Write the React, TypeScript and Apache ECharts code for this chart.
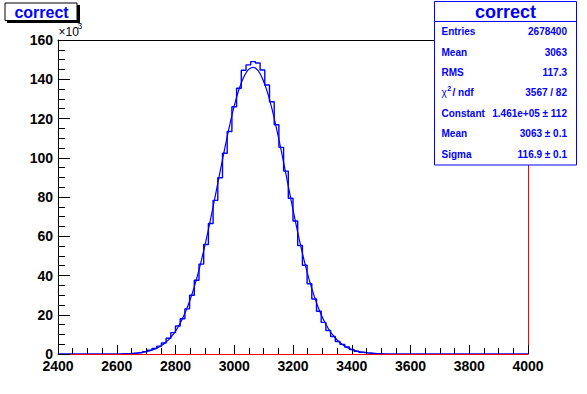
import React, { useEffect, useRef } from "react";
import * as echarts from "echarts";

// Histogram: 100 bins of width 16 from 2400 to 4000 (values in thousands)
const xMin = 2400;
const xMax = 4000;
const binWidth = 16;
const firstBin = 13;
const histValues = [
  0.05, 0.1, 0.25, 0.45, 0.75, 1.2, 1.9, 2.8, 4.0, 5.6, 8.0, 10.9,
  14.3, 18.0, 23.0, 29.9, 37.6, 45.8, 55.8, 66.5, 78.3, 89.8, 102.3, 113.4,
  126.0, 135.4, 144.6, 147.3, 149.0, 148.3, 144.7, 137.1, 128.5, 116.8, 105.3, 93.2,
  79.4, 67.8, 55.3, 45.2, 35.8, 28.0, 21.8, 16.1, 12.0, 8.9, 6.4, 4.9,
  3.6, 2.3, 1.4, 0.9, 0.55, 0.35, 0.2, 0.1, 0.05,
];
// Fit curve sampled at bin centres (same bins as histValues)
const fitValues = [
  0.1, 0.16, 0.27, 0.43, 0.68, 1.06, 1.61, 2.41, 3.53, 5.08, 7.17, 9.95,
  13.53, 18.07, 23.67, 30.46, 38.45, 47.63, 57.93, 69.15, 80.98, 93.07, 105.0, 116.3,
  126.4, 134.8, 141.0, 144.9, 146.1, 144.6, 140.4, 133.8, 125.2, 114.9, 103.6, 91.6,
  79.5, 67.7, 56.6, 46.4, 37.4, 29.6, 22.9, 17.4, 13.0, 9.56, 6.88, 4.86,
  3.37, 2.29, 1.53, 1.0, 0.65, 0.41, 0.25, 0.15, 0.09,
];
const xTickInterval = 200;
const yMax = 160;
const yTickInterval = 20;

const statsTitle = "correct";
const statsRows: [string, string][] = [
  ["Entries", "2678400"],
  ["Mean", "3063"],
  ["RMS", "117.3"],
  ["CHI", "3567 / 82"],
  ["Constant", "1.461e+05 \u00b1 112"],
  ["Mean", "3063 \u00b1 0.1"],
  ["Sigma", "116.9 \u00b1 0.1"],
];

const FONT = "Liberation Sans, Arial, Helvetica, sans-serif";
const BLUE = "#0000ff";

export default function App() {
  const ref = useRef<HTMLDivElement>(null);
  useEffect(() => {
    if (!ref.current) return;
    const chart = echarts.init(ref.current, null, { renderer: "svg" });

    const nBins = (xMax - xMin) / binWidth;
    const histData: [number, number][] = [];
    for (let i = 0; i < nBins; i++) {
      const k = i - firstBin;
      const v = k >= 0 && k < histValues.length ? histValues[k] : 0;
      histData.push([xMin + i * binWidth, v]);
    }
    histData.push([xMax, histData[histData.length - 1][1]]);
    const fitData = fitValues.map((v, k) => [xMin + (firstBin + k + 0.5) * binWidth, v]);

    const labelStyle = {
      color: "#000", fontFamily: FONT, fontWeight: "bold", fontSize: 14,
      formatter: (v: number) => String(v),
    };

    const Z = 40;
    const rowTexts: any[] = [];
    const rowY0 = 31.7;
    const rowStep = 20.4;
    statsRows.forEach(([name, val], idx) => {
      const y = rowY0 + idx * rowStep;
      if (name === "CHI") {
        rowTexts.push({ type: "text", z: Z + 2, x: 441.5, y, style: { text: "\u03c7", fill: BLUE, font: `10px ${FONT}`, verticalAlign: "middle" } });
        rowTexts.push({ type: "text", z: Z + 2, x: 447.3, y: y - 4, style: { text: "2", fill: BLUE, font: `bold 7px ${FONT}`, verticalAlign: "middle" } });
        rowTexts.push({ type: "text", z: Z + 2, x: 452.5, y, style: { text: "/ ndf", fill: BLUE, font: `bold 10px ${FONT}`, verticalAlign: "middle" } });
      } else {
        rowTexts.push({ type: "text", z: Z + 2, x: 441.5, y, style: { text: name, fill: BLUE, font: `bold 10px ${FONT}`, verticalAlign: "middle" } });
      }
      rowTexts.push({ type: "text", z: Z + 2, x: 567, y, style: { text: val, fill: BLUE, font: `bold 10px ${FONT}`, align: "right", verticalAlign: "middle" } });
    });

    chart.setOption({
      animation: false,
      grid: { left: 58, top: 40, width: 470, height: 314, containLabel: false },
      xAxis: [
        {
          type: "value", min: xMin, max: xMax, interval: xTickInterval, position: "bottom", z: 10,
          axisLine: { onZero: false, lineStyle: { color: "#ff0000", width: 1 } },
          axisTick: { inside: true, length: 9, lineStyle: { color: "#000" } },
          minorTick: { show: true, splitNumber: 4, length: 6, lineStyle: { color: "#000" } },
          axisLabel: { ...labelStyle, margin: 5 },
          splitLine: { show: false },
        },
        {
          type: "value", min: xMin, max: xMax, position: "top", z: 10,
          axisLine: { onZero: false, lineStyle: { color: "#000", width: 1 } },
          axisTick: { show: false }, axisLabel: { show: false }, splitLine: { show: false },
        },
      ],
      yAxis: [
        {
          type: "value", min: 0, max: yMax, interval: yTickInterval, position: "left", z: 10,
          axisLine: { show: true, onZero: false, lineStyle: { color: "#000", width: 1 } },
          axisTick: { show: true, inside: true, length: 12, lineStyle: { color: "#000" } },
          minorTick: { show: true, splitNumber: 4, length: 7, lineStyle: { color: "#000" } },
          axisLabel: { ...labelStyle, margin: 5 },
          splitLine: { show: false },
        },
        {
          type: "value", min: 0, max: yMax, position: "right", z: 1,
          axisLine: { show: true, onZero: false, lineStyle: { color: "#ff0000", width: 1 } },
          axisTick: { show: false }, axisLabel: { show: false }, splitLine: { show: false },
        },
      ],
      series: [
        {
          type: "line", xAxisIndex: 0, yAxisIndex: 0, data: histData, step: "end",
          symbol: "none", lineStyle: { color: BLUE, width: 1.4 }, z: 2,
        },
        {
          type: "line", xAxisIndex: 0, yAxisIndex: 0, data: fitData, smooth: 0.3,
          symbol: "none", lineStyle: { color: BLUE, width: 1.2 }, z: 3,
        },
      ],
      graphic: {
        z: Z,
        elements: [
          // x10^3 exponent
          { type: "text", z: Z, x: 58.5, y: 31.5, style: { text: "\u00d710", fill: "#000", font: `12px ${FONT}`, verticalAlign: "middle" } },
          { type: "text", z: Z, x: 77.5, y: 25.5, style: { text: "3", fill: "#000", font: `8.5px ${FONT}`, verticalAlign: "middle" } },
          // title box with shadow
          { type: "rect", z: Z, shape: { x: 7, y: 5, width: 73, height: 18 }, style: { fill: "#000" } },
          { type: "rect", z: Z + 1, shape: { x: 5, y: 3, width: 72, height: 17.5 }, style: { fill: "#fff", stroke: "#000", lineWidth: 1 } },
          { type: "text", z: Z + 2, x: 41.5, y: 12.5, style: { text: "correct", fill: BLUE, font: `bold 16px ${FONT}`, align: "center", verticalAlign: "middle" } },
          // stats box
          { type: "rect", z: Z, shape: { x: 434.5, y: 1.5, width: 142, height: 163.5 }, style: { fill: "#fff", stroke: BLUE, lineWidth: 1 } },
          { type: "line", z: Z + 1, shape: { x1: 434.5, y1: 21.5, x2: 576.5, y2: 21.5 }, style: { stroke: BLUE, lineWidth: 1 } },
          { type: "text", z: Z + 2, x: 505.5, y: 12, style: { text: statsTitle, fill: BLUE, font: `bold 18px ${FONT}`, align: "center", verticalAlign: "middle" } },
          ...rowTexts,
        ],
      },
    });
    return () => chart.dispose();
  }, []);
  return <div ref={ref} style={{ width: 587, height: 394, position: "absolute", left: 0, top: 0, background: "#fff" }} />;
}
